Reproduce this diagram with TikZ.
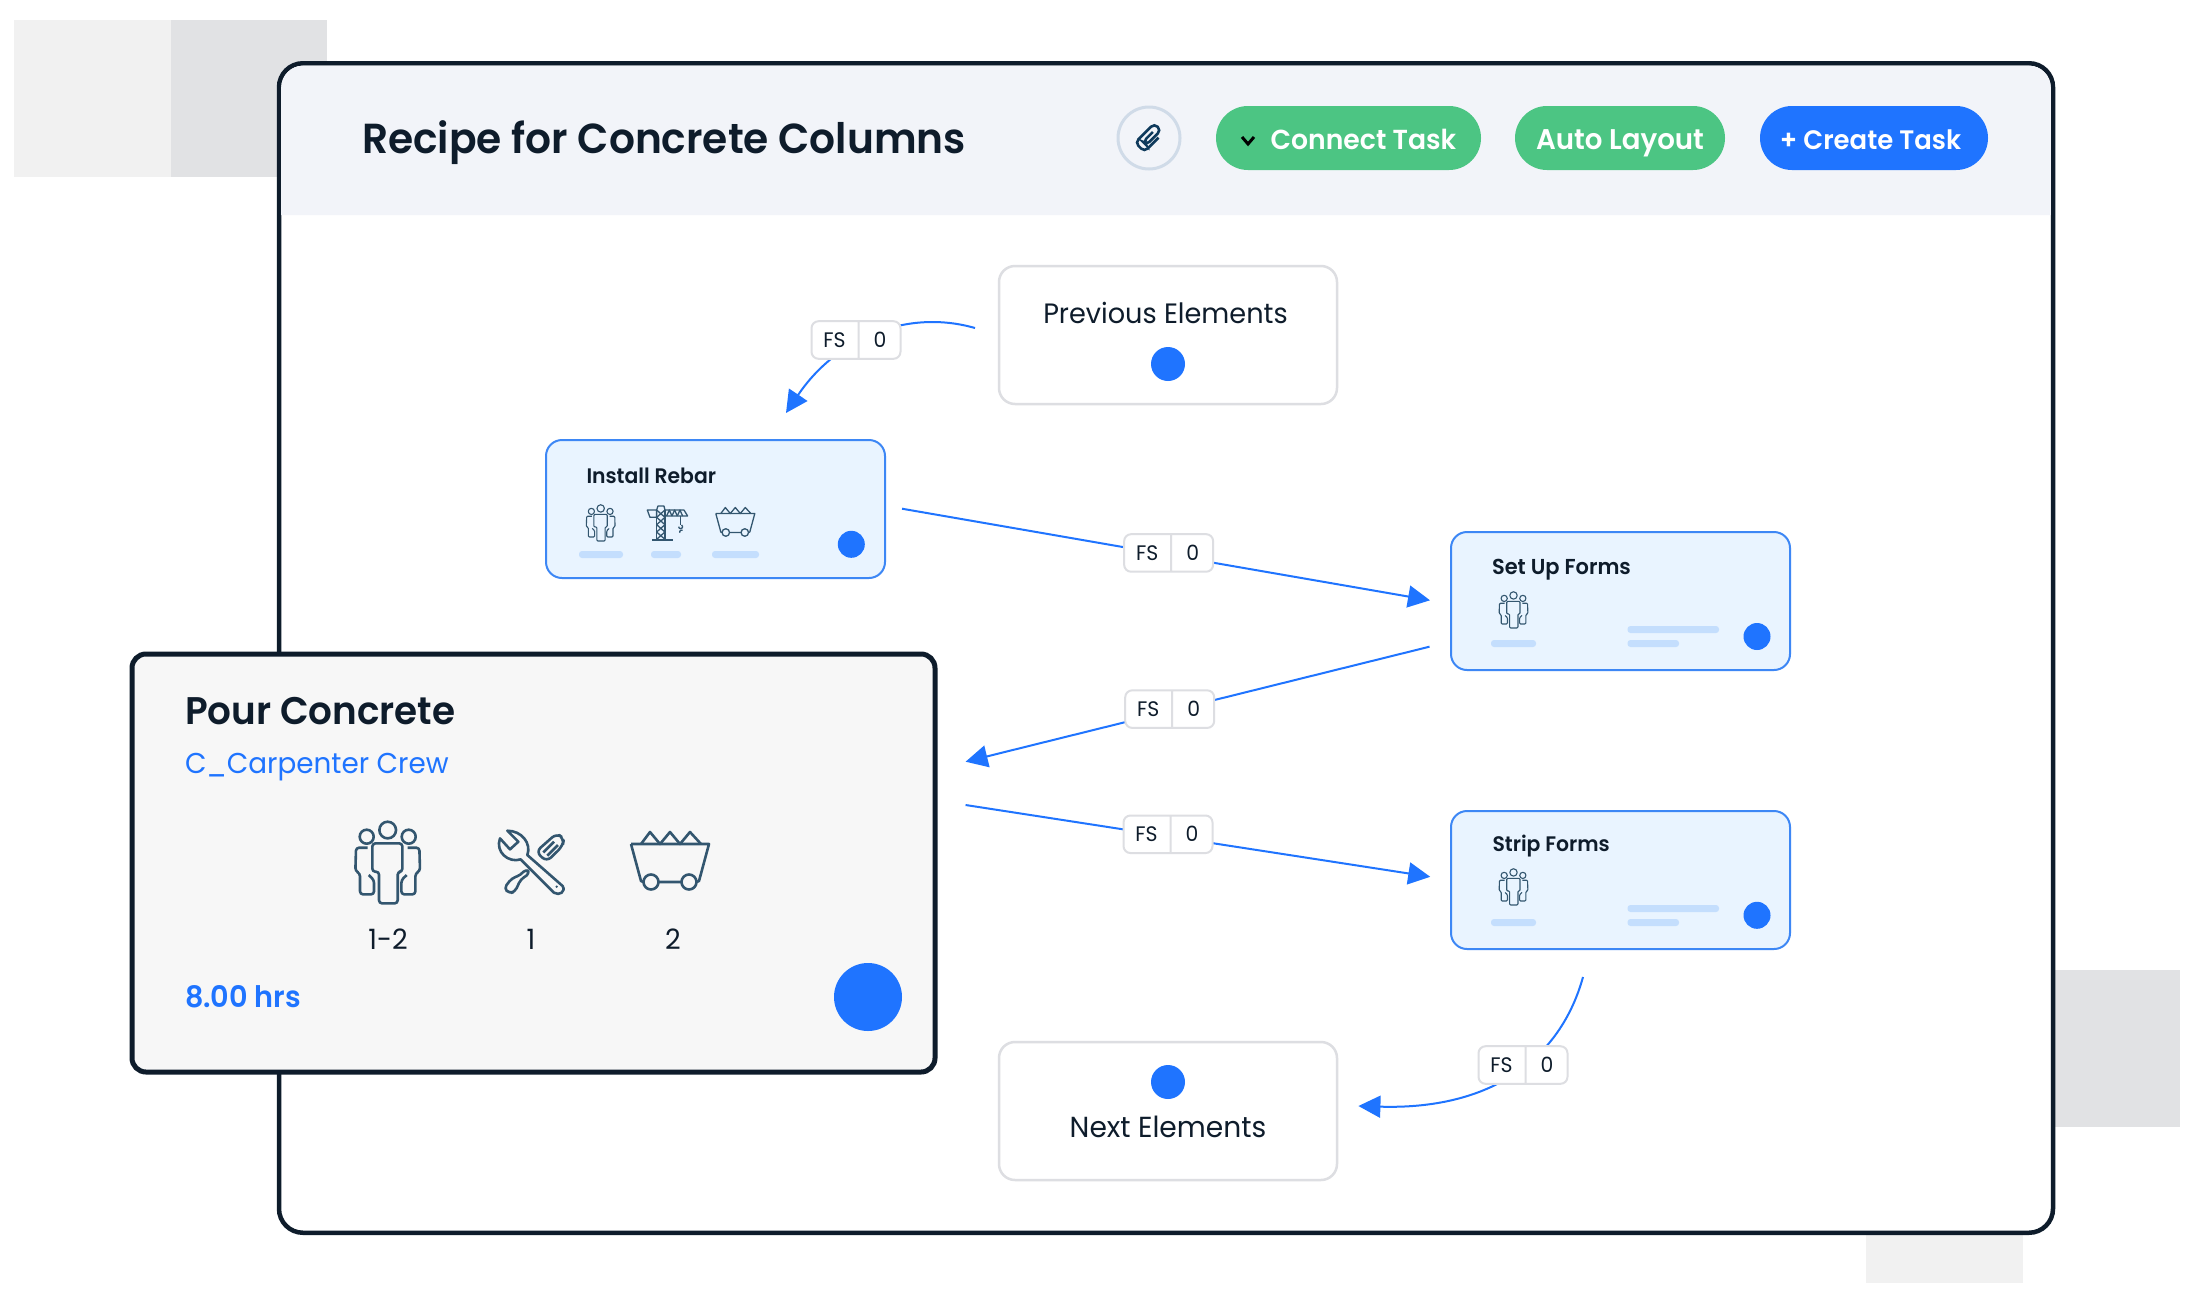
\documentclass[tikz,border=0pt]{standalone}
\usepackage{fontspec}
\setmainfont{Poppins}[FakeStretch=.97, BoldFont={Poppins SemiBold}]
\usepackage{xcolor}
\usetikzlibrary{shapes, arrows.meta, positioning, calc}
\definecolor{ink}{HTML}{0E1C2B}
\definecolor{azure}{HTML}{1F74FF}
\definecolor{leaf}{HTML}{4CC583}
\definecolor{headbg}{HTML}{F2F4F9}
\definecolor{greyA}{HTML}{F1F1F1}
\definecolor{greyB}{HTML}{E1E2E4}
\definecolor{boxline}{HTML}{DDDEE2}
\definecolor{cardline}{HTML}{3D87F5}
\definecolor{cardbg}{HTML}{E9F4FF}
\definecolor{barblue}{HTML}{C4DEFD}
\definecolor{slate}{HTML}{33566F}
\definecolor{clipring}{HTML}{D0DBE8}
\definecolor{clipblue}{HTML}{0F3A5C}
\definecolor{pourbg}{HTML}{F7F7F7}
\newcommand{\fsize}[1]{\fontsize{#1pt}{#1pt}\selectfont}
\newcommand{\fscell}[2]{\makebox[#1pt]{\rule{0pt}{13pt}#2}}
\tikzset{
    bodyround/.store in=\bodyround,
    bodyround=3pt,
    plainbox/.style={
        rectangle,
        draw=boxline,
        line width=2.5pt,
        fill=white,
        rounded corners=16pt,
        minimum width=338pt,
        minimum height=138pt,
    },
    card/.style={
        rectangle,
        draw=cardline,
        line width=2pt,
        fill=cardbg,
        rounded corners=16pt,
        minimum width=339pt,
        minimum height=138pt,
    },
    dot/.style={
        circle,
        fill=azure,
        minimum size=27pt,
    },
    pill/.style={
        rectangle,
        rounded corners=32pt,
        minimum height=64pt,
        text=white,
        text height=24pt,
        text depth=1.4pt,
        font=\fsize{28}\bfseries,
    },
    fslabel/.style={
        rectangle split,
        rectangle split horizontal,
        rectangle split parts=2,
        draw=boxline,
        line width=2pt,
        fill=white,
        rounded corners=7pt,
        inner xsep=13pt,
        inner ysep=11pt,
        yshift=2pt,
        text=ink,
        font=\fsize{21},
    },
    link/.style={->, draw=azure, line width=2pt},
    bar/.style={fill=barblue, rounded corners=3pt},
    elemtext/.style={text=ink, font=\fsize{28}, anchor=base},
    cardtext/.style={text=ink, font=\fsize{21}\bfseries, anchor=base west},
    pourtext/.style={text=ink, font=\fsize{28}, anchor=base},
    peopleicon/.pic={
        \begin{scope}[shift={(-173,-155)}, draw=slate, line join=round]
        \draw (173,60) circle [radius=25];
        \draw (110,80) circle [radius=21];
        \draw (236,80) circle [radius=21];
        \draw[rounded corners=\bodyround] (127,185) -- (127,100) -- (217,100) -- (217,185) -- (203,185) -- (203,280) -- (147,280) -- (147,185) -- cycle;
        \draw[rounded corners=\bodyround] (113,113) -- (78,113) -- (76,183) -- (90,190) -- (90,253) -- (132,253) -- (132,210) -- (116,195);
        \draw[rounded corners=\bodyround] (233,113) -- (268,113) -- (270,183) -- (256,190) -- (256,253) -- (214,253) -- (214,210) -- (230,195);
        \end{scope}
    },
    wrenchicon/.pic={
        \begin{scope}[shift={(-600,-155)}, draw=slate, line join=round]
        \draw (532,62) .. controls (575,62) and (605,100) .. (592,135) -- (698,228) .. controls (708,245) and (688,258) .. (672,248) -- (572,148) .. controls (535,160) and (495,125) .. (510,85) -- (540,118) -- (565,95) -- cycle;
        \draw[rounded corners=6pt] (618,125) -- (680,70) -- (702,85) -- (698,108) -- (650,155) -- cycle;
        \draw (640,127) -- (672,95) (652,137) -- (684,105);
        \draw[rounded corners=4pt] (588,176) -- (600,190) -- (572,208) -- (555,245) -- (538,250) -- (522,235) -- (545,205) -- (572,195) -- cycle;
        \fill[slate] (680,230) circle [radius=4];
        \end{scope}
    },
    carticon/.pic={
        \draw[draw=slate, line join=round] (-39,-17) -- (39,-17) -- (29,20) -- (26.5,21);
        \draw[draw=slate, line join=round] (-39,-17) -- (-29,20) -- (-26.5,21);
        \draw[draw=slate] (-19,21) circle [radius=7.5] (19,21) circle [radius=7.5] (-11.5,21) -- (11.5,21);
        \draw[draw=slate, line join=round] (-29,-17) -- (-20,-29) -- (-10,-17) -- (0,-29) -- (10,-17) -- (20,-29) -- (31,-17);
    },
    craneicon/.pic={
        \begin{scope}[shift={(-412,-276)}, draw=slate, line join=round]
        \draw (380,240) -- (384,228) -- (402,228) -- (405,240);
        \draw (380,240) -- (380,330) (405,240) -- (405,330) (367,330) -- (428,330);
        \foreach \ya in {240,262,284,306} {
            \draw (380,\ya) -- (405,\ya+22) (405,\ya) -- (380,\ya+22);
        }
        \draw (352,240) -- (380,240) -- (380,262) -- (360,262) -- cycle;
        \draw (405,240) -- (462,240) -- (473,258) -- (405,258);
        \foreach \xa in {418,434,450} {
            \draw (\xa-8,258) -- (\xa,240) -- (\xa+8,258);
        }
        \draw (452,258) -- (452,284);
        \draw (446,290) arc [start angle=180, end angle=-60, radius=6];
        \draw (458,301) arc [start angle=-60, end angle=-200, radius=6];
        \end{scope}
    },
}

\begin{document}
\begin{tikzpicture}[x=1pt, y=-1pt, >={Triangle[length=22pt,width=22pt]}, every node/.style={inner sep=0pt, outer sep=0pt}]
      \useasboundingbox (0,0) rectangle (2198,1304);

      % grey squares behind the window
      \fill[greyA] (14,20) rectangle (171,177);
      \fill[greyB] (171,20) rectangle (327,177);
      \fill[greyB] (2023,970) rectangle (2180,1127);
      \fill[greyA] (1866,1127) rectangle (2023,1283);

      \node [rectangle, draw=ink, line width=4.5pt, fill=white, rounded corners=24pt, minimum width=1774pt, minimum height=1169.5pt] (window) at (1166,648) {};
      \fill[headbg] (281.2,215) {[rounded corners=22pt] -- (281.2,65.7) -- (2050.8,65.7)} -- (2050.8,215) -- cycle;

      \node [anchor=base west, text=ink, font=\fsize{42}\bfseries] (title) at (362,153) {Recipe for Concrete Columns};

      \node [circle, draw=clipring, line width=3pt, fill=headbg, minimum size=62pt] (clip) at (1149,138) {};
      \draw[rotate around={-45:(clip)}, draw=clipblue, line width=2.6pt, rounded corners=4.5pt]
          ($(clip)+(6.5,-7)$) -- ($(clip)+(6.5,13)$) -- ($(clip)+(-6.5,13)$) -- ($(clip)+(-6.5,-14)$) -- ($(clip)+(3,-14)$) -- ($(clip)+(3,7)$) -- ($(clip)+(-1.5,7)$) -- ($(clip)+(-1.5,-7)$);

      \node [pill, fill=leaf, minimum width=265pt, font=\fsize{27.5}\bfseries] (connect) at (1348.5,138) {\hspace{30pt}Connect Task};
      \draw[black, line width=3pt] (1242,137) -- (1248,144) -- (1254,137);
      \node [pill, fill=leaf, minimum width=210pt, font=\fsize{28.5}\bfseries] (layout) at (1620,138) {Auto Layout};
      \node [pill, fill=azure, minimum width=228pt, font=\fsize{26.7}\bfseries] (create) at (1874,138) {\hspace{-7pt}+ Create Task};

      % element boxes
      \node [plainbox] (prev) at (1168,335) {};
      \node [plainbox] (next) [below of=prev, node distance=776pt] {};
      \node [elemtext] (prevtext) at (1165.5,323) {Previous Elements};
      \node [dot, minimum size=34pt] (prevdot) at (1168,364) {};
      \node [elemtext, font=\fsize{29}] (nexttext) at (1168,1137) {Next Elements};
      \node [dot, minimum size=34pt] (nextdot) at (1168,1082) {};

      % task cards
      \node [card] (rebar) at (715.5,509) {};
      \node [card] (setup) at (1620.5,601) {};
      \node [card] (strip) [below of=setup, node distance=279pt] {};

      \node [cardtext] (rebartext) at (586.5,483) {Install Rebar};
      \pic [line width=1.1pt, scale=.148, bodyround=1pt] at (600.7,522.5) {peopleicon};
      \pic [line width=1.3pt, scale=.3333] at (667.3,522) {craneicon};
      \pic [line width=1.3pt, scale=.5] at (735.3,522) {carticon};
      \fill[bar] (579,551) rectangle (623,558);
      \fill[bar] (651,551) rectangle (681,558);
      \fill[bar] (712,551) rectangle (759,558);
      \node [dot] (rebardot) at (851.3,544.3) {};

      \node [cardtext, font=\fsize{21.6}\bfseries] (setuptext) at (1492,574) {Set Up Forms};
      \pic [line width=1.1pt, scale=.148, bodyround=1pt] at (1513.5,609.5) {peopleicon};
      \fill[bar] (1491,640) rectangle (1536,647);
      \fill[bar] (1627.5,626) rectangle (1719,633);
      \fill[bar] (1627.5,640) rectangle (1679,647);
      \node [dot] (setupdot) at (1757,636.5) {};

      \node [cardtext] (striptext) at (1492.5,851) {Strip Forms};
      \pic [line width=1.1pt, scale=.148, bodyround=1pt] at (1513.5,886.5) {peopleicon};
      \fill[bar] (1491,919) rectangle (1536,926);
      \fill[bar] (1627.5,905) rectangle (1719,912);
      \fill[bar] (1627.5,919) rectangle (1679,926);
      \node [dot] (stripdot) at (1757,915.3) {};

      % the big card
      \node [rectangle, draw=ink, line width=5pt, fill=pourbg, rounded corners=14pt, minimum width=803pt, minimum height=418pt] (pour) at (533.5,863) {};
      \node [anchor=base west, text=ink, font=\fsize{38.5}\bfseries] (pourtitle) at (185,724) {Pour Concrete};
      \node [anchor=base west, text=azure, font=\fsize{28.7}] (crew) at (185,773) {C\_Carpenter Crew};
      \pic [line width=2.6pt, scale=.3333] at (387.7,861.7) {peopleicon};
      \pic [line width=2.6pt, scale=.3333] at (530,861.7) {wrenchicon};
      \pic [line width=2.6pt] at (670,861) {carticon};
      \node [pourtext] (crewnum) at (388,949) {1-2};
      \node [pourtext] (toolnum) at (531,949) {1};
      \node [pourtext] (cartnum) at (673,949) {2};
      \node [anchor=base west, text=azure, font=\fsize{29.6}\bfseries] (hours) at (185,1007) {8.00 hrs};
      \node [dot, minimum size=68pt] (pourdot) at (868,997) {};

      % connector ends
      \coordinate (prev-out) at (975,328);
      \coordinate (rebar-in) at (786,413);
      \coordinate (rebar-out) at (902,508.7);
      \coordinate (setup-in) at (1430,600.3);
      \coordinate (setup-out) at (1429.5,646.7);
      \coordinate (pour-in) at (965.6,761.7);
      \coordinate (pour-out) at (965.6,805);
      \coordinate (strip-out) at (1583,977);
      \coordinate (next-in) at (1358.4,1106);

      \draw[link] (prev-out) .. controls (905,308) and (835,340) .. (rebar-in);
      \node [fslabel] (fsa) at (856,342) {\fscell{20}{FS}\nodepart{two}\fscell{15}{0}};

      \path (rebar-out) edge [link] node [fslabel, pos=.505] (fsb) {\fscell{20}{FS}\nodepart{two}\fscell{15}{0}} (setup-in);
      \path (setup-out) edge [link] node [fslabel, pos=.56] (fsc) {\fscell{20}{FS}\nodepart{two}\fscell{15}{0}} (pour-in);
      \path (pour-out) edge [link, shorten >=21pt] node [fslabel, pos=.417] (fsd) {\fscell{20}{FS}\nodepart{two}\fscell{15}{0}} (strip.west);

      \draw[link] (strip-out) .. controls (1560,1060) and (1490,1110) .. (next-in);
      \node [fslabel] (fse) at (1523,1067) {\fscell{20}{FS}\nodepart{two}\fscell{15}{0}};

    \end{tikzpicture}
\end{document}
